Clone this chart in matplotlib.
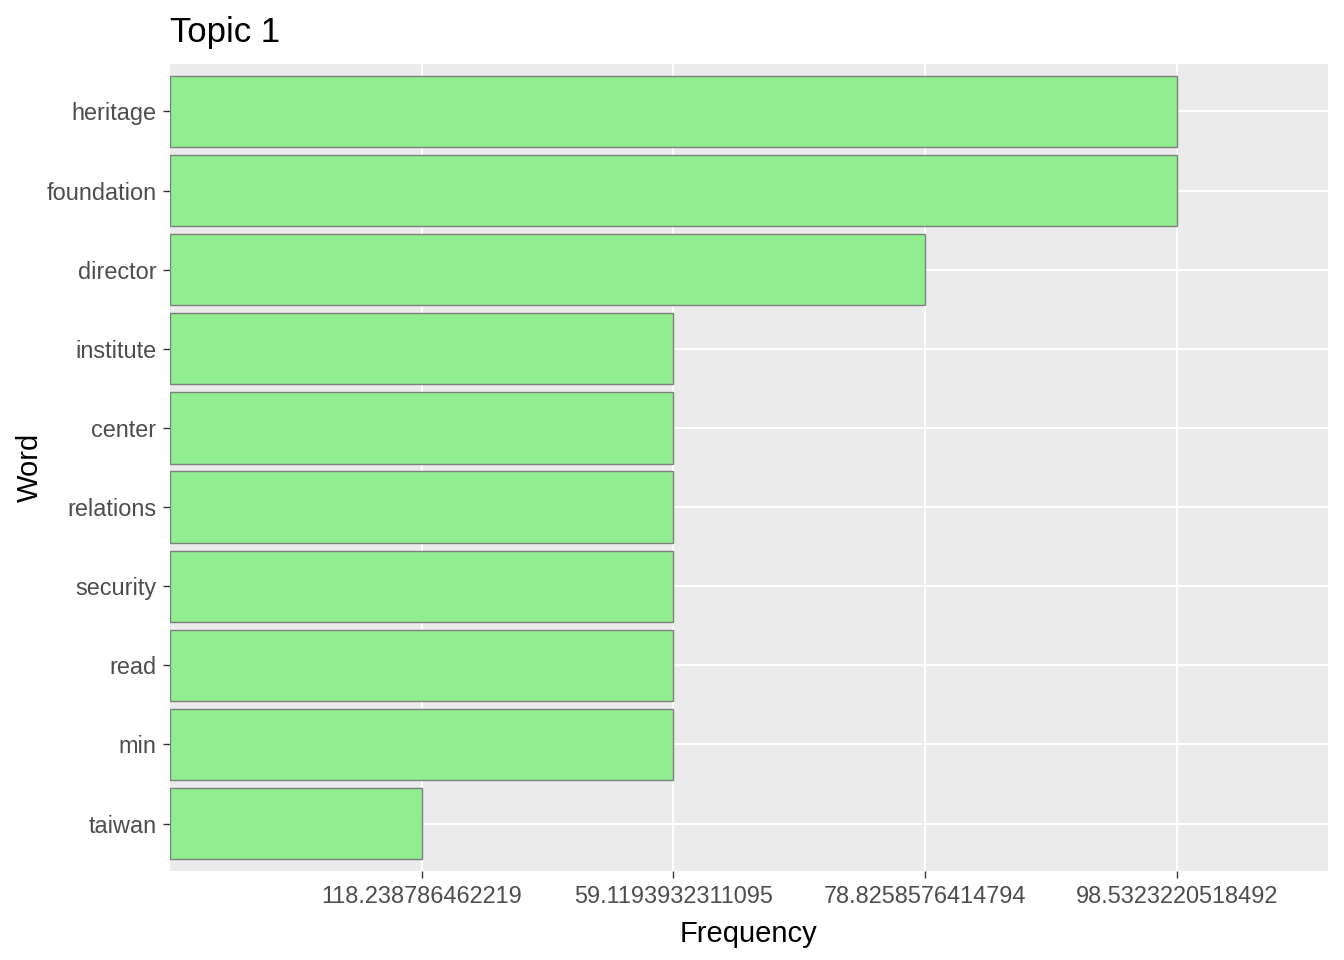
import matplotlib
matplotlib.use("Agg")
import matplotlib.pyplot as plt

plt.rcParams['font.family'] = ['Liberation Sans', 'DejaVu Sans']

# words from top to bottom and their frequency labels (treated as discrete levels)
words = ['heritage', 'foundation', 'director', 'institute', 'center',
         'relations', 'security', 'read', 'min', 'taiwan']
freq = ['98.5323220518492', '98.5323220518492', '78.8258576414794',
        '59.1193932311095', '59.1193932311095', '59.1193932311095',
        '59.1193932311095', '59.1193932311095', '59.1193932311095',
        '118.238786462219']

levels = sorted(set(freq))  # string sort, like a factor
pos = [levels.index(f) + 1 for f in freq]
ypos = list(range(len(words), 0, -1))

fig = plt.figure(figsize=(13.44, 9.6), dpi=100)
ax = fig.add_axes([170 / 1344, 1 - 871 / 960, (1328 - 170) / 1344, (871 - 64) / 960])
ax.set_facecolor('#EBEBEB')

ax.barh(ypos, pos, height=0.9, color='#90EE90', edgecolor='#7F7F7F',
        linewidth=1.0, zorder=3)

ax.set_xlim(0, 4.6)
ax.set_ylim(0.4, 10.6)
ax.set_xticks(range(1, len(levels) + 1))
ax.set_xticklabels(levels)
ax.set_yticks(ypos)
ax.set_yticklabels(words)

ax.grid(True, color='white', linewidth=1.4, zorder=1)
for s in ax.spines.values():
    s.set_visible(False)
ax.tick_params(axis='both', colors='#333333', labelcolor='#4D4D4D',
               labelsize=16.9, length=5.3, width=1.0)
ax.tick_params(axis='x', pad=4.5)
ax.tick_params(axis='y', pad=4.5)

ax.set_xlabel('Frequency', fontsize=21, labelpad=9)
ax.set_ylabel('Word', fontsize=21, labelpad=1.5)
ax.set_title('Topic 1', fontsize=25, loc='left', pad=16)

fig.savefig('out.png', dpi=100)
